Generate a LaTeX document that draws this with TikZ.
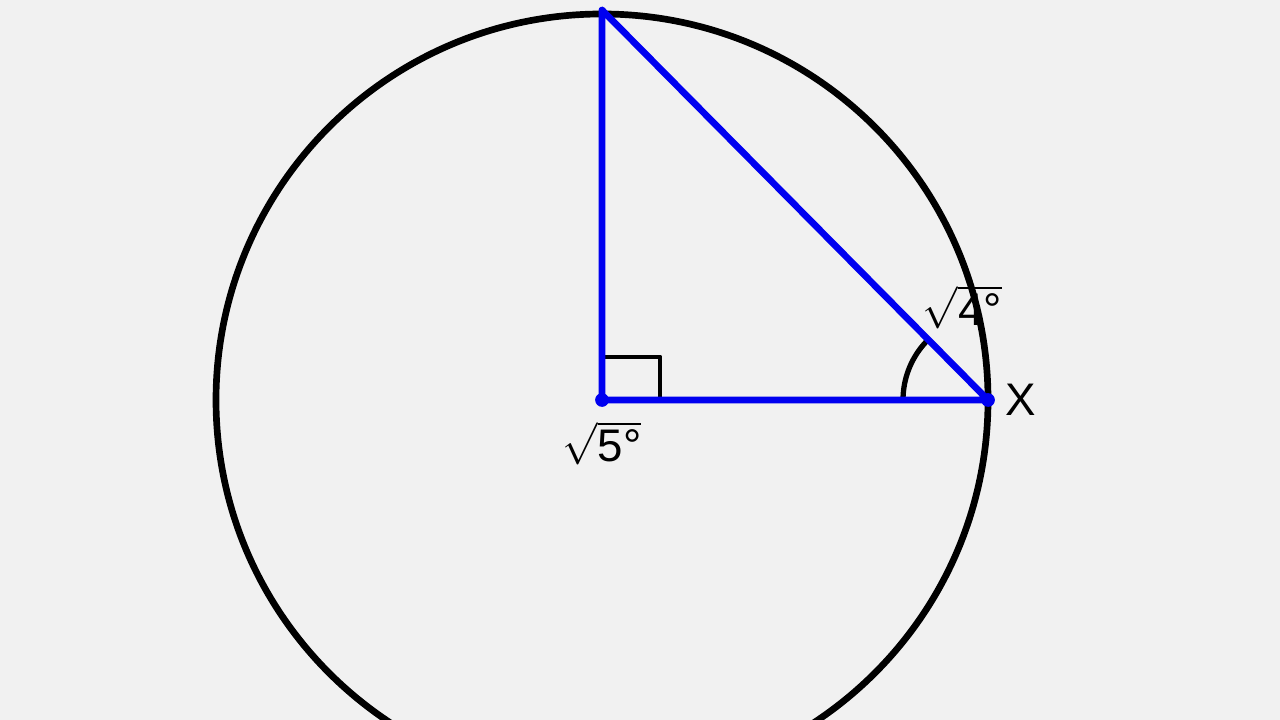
\documentclass[tikz,border=0pt]{standalone}
\usepackage{fontspec}
\setmainfont{Liberation Sans}
\usepackage{tkz-euclide}
\definecolor{bggray}{RGB}{241,241,241}
\definecolor{triblue}{RGB}{0,0,240}
\tikzset{bigtext/.style={font=\fontsize{13}{15}\selectfont}}

\begin{document}
\begin{tikzpicture}
\fill[bggray] (0,0) rectangle (12.8,7.2);
\clip (0,0) rectangle (12.8,7.2);
\tkzDefPoints{6.02/3.2/O, 9.88/3.2/X, 6.02/7.1/T}
\tkzDrawCircle[line width=1.9pt, color=black](O,X)
\tkzDefPoints{6.02/3.63/P, 6.6/3.63/Q, 6.6/3.2/R}
\tkzDrawPolygon[line width=1.4pt, color=black](O,P,Q,R)
\tkzMarkAngle[line width=1.5pt, size=0.85](T,X,O)
\tkzDrawPolygon[line width=1.9pt, triblue](O,X,T)
\tkzDrawPoints[fill=triblue, color=triblue, size=3.5pt](O,X)
\tkzLabelPoint[below=2pt, bigtext](O){$\sqrt{\mbox{5°}}$}
\tkzLabelPoint[right=1pt, bigtext](X){X}
\tkzLabelPoint[above left=16pt and -8pt, bigtext](X){$\sqrt{\mbox{4°}}$}
\end{tikzpicture}
\end{document}
